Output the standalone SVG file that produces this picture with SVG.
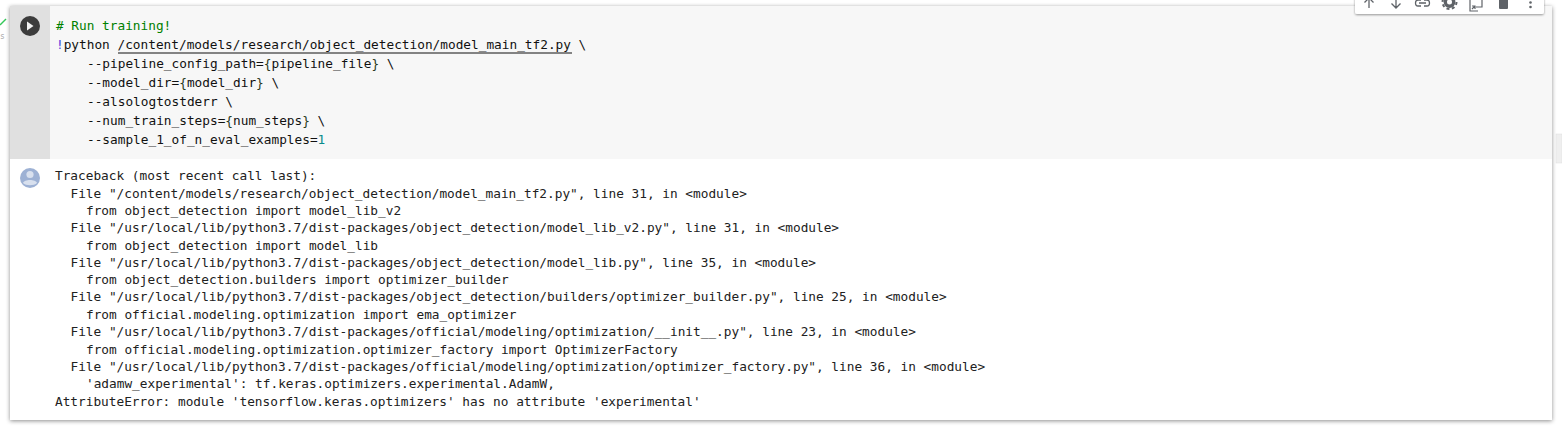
<svg xmlns="http://www.w3.org/2000/svg" width="1562" height="426" viewBox="0 0 1562 426">
<style>
text{font-family:"DejaVu Sans Mono","Liberation Mono",monospace;font-size:12.78px;fill:#212121;white-space:pre}
.c{fill:#111}
.g{fill:#008000}.b{fill:#4a3fe0}.n{fill:#098a8a}.br{fill:#2a3a20}
.ic{fill:#5f6368}
</style>
<defs>
<filter id="s" x="-2%" y="-5%" width="104%" height="110%"><feDropShadow dx="0" dy="1" stdDeviation="2" flood-color="#000" flood-opacity=".45"/></filter>
<filter id="t" x="-5%" y="-20%" width="110%" height="150%"><feDropShadow dx="0" dy="1" stdDeviation="1.2" flood-color="#000" flood-opacity=".4"/></filter>
</defs>
<rect width="1562" height="426" fill="#fff"/>
<path d="M0 25l6-6" stroke="#34c759" stroke-width="1.400" fill="none"/>
<text x="0" y="39" style="font-size:8px;fill:#aaa">s</text>
<g id="cell">
<rect x="10" y="6" width="1542" height="414" fill="#fff" filter="url(#s)"/>
<rect x="10" y="6" width="1542" height="153" fill="#f7f7f7"/>
<rect x="10" y="6" width="40" height="153" fill="#e0e0e0"/>
</g>
<g id="run-button">
<circle cx="30" cy="26" r="10" fill="#3c3c3c"/>
<path d="M27 21.500l6.500 4.500-6.500 4.500z" fill="#f2f2f2"/>
</g>
<g id="output-icon">
<circle cx="30" cy="178" r="10" fill="#9db1d4"/>
<circle cx="30" cy="174.500" r="3.600" fill="#d8e0ee"/>
<path d="M23 183c1-4 13-4 14 0c-3 3-11 3-14 0z" fill="#d8e0ee"/>
</g>
<g id="code">
<text x="56" y="29.500" class="g"># Run training!</text>
<text x="56" y="49" class="c"><tspan class="b">!</tspan>python /content/models/research/object_detection/model_main_tf2.py \</text>
<path d="M118 53h454" stroke="#111" stroke-width="1.200"/>
<text x="87" y="68" class="c">--pipeline_config_path=<tspan class="br">{</tspan>pipeline_file<tspan class="br">}</tspan> \</text>
<text x="87" y="87" class="c">--model_dir=<tspan class="br">{</tspan>model_dir<tspan class="br">}</tspan> \</text>
<text x="87" y="106" class="c">--alsologtostderr \</text>
<text x="87" y="125" class="c">--num_train_steps=<tspan class="br">{</tspan>num_steps<tspan class="br">}</tspan> \</text>
<text x="87" y="144" class="c">--sample_1_of_n_eval_examples=<tspan class="n">1</tspan></text>
</g>
<g id="output">
<text x="55" y="180">Traceback (most recent call last):</text>
<text x="70.500" y="198">File "/content/models/research/object_detection/model_main_tf2.py", line 31, in &lt;module&gt;</text>
<text x="86" y="215">from object_detection import model_lib_v2</text>
<text x="70.500" y="232">File "/usr/local/lib/python3.7/dist-packages/object_detection/model_lib_v2.py", line 31, in &lt;module&gt;</text>
<text x="86" y="250">from object_detection import model_lib</text>
<text x="70.500" y="267">File "/usr/local/lib/python3.7/dist-packages/object_detection/model_lib.py", line 35, in &lt;module&gt;</text>
<text x="86" y="284">from object_detection.builders import optimizer_builder</text>
<text x="70.500" y="301">File "/usr/local/lib/python3.7/dist-packages/object_detection/builders/optimizer_builder.py", line 25, in &lt;module&gt;</text>
<text x="86" y="319">from official.modeling.optimization import ema_optimizer</text>
<text x="70.500" y="336">File "/usr/local/lib/python3.7/dist-packages/official/modeling/optimization/__init__.py", line 23, in &lt;module&gt;</text>
<text x="86" y="354">from official.modeling.optimization.optimizer_factory import OptimizerFactory</text>
<text x="70.500" y="371">File "/usr/local/lib/python3.7/dist-packages/official/modeling/optimization/optimizer_factory.py", line 36, in &lt;module&gt;</text>
<text x="86" y="388">'adamw_experimental': tf.keras.optimizers.experimental.AdamW,</text>
<text x="55" y="405.500">AttributeError: module 'tensorflow.keras.optimizers' has no attribute 'experimental'</text>
</g>
<g id="toolbar">
<rect x="1355" y="-10" width="189" height="24" rx="2" fill="#fff" filter="url(#t)"/>
<path d="M1369 8V-2M1364.500 2.500L1369-2l4.500 4.500M1396 8V-2M1391.500 3.500L1396 8l4.500-4.500" fill="none" stroke="#5f6368" stroke-width="1.300"/>
<path d="M1421 0h-3q-2.500 0-2.500 3t2.500 3h3M1424 0h3q2.500 0 2.500 3t-2.500 3h-3M1419 3h7" fill="none" stroke="#5f6368" stroke-width="1.300"/>
<circle cx="1449.500" cy="2" r="4.200" fill="none" stroke="#5f6368" stroke-width="3.400"/>
<circle cx="1449.500" cy="2" r="7" fill="none" stroke="#5f6368" stroke-width="2" stroke-dasharray="3 2.500"/>
<path d="M1470 0v11h8M1476 7h6V-2M1472 9l3-3M1472 6h3v3" fill="none" stroke="#5f6368" stroke-width="1.200"/>
<path d="M1499-2h9V8q0 1-1 1h-7q-1 0-1-1z" class="ic"/>
<circle cx="1530.500" cy="2.500" r="1.300" class="ic"/><circle cx="1530.500" cy="7" r="1.300" class="ic"/>
</g>
<rect x="1556" y="134" width="6" height="29" fill="#efefef" stroke="#ddd" stroke-width=".5"/>
</svg>
